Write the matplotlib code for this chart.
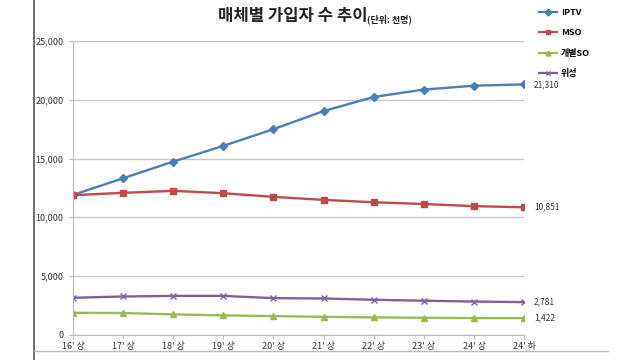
import matplotlib.pyplot as plt
from matplotlib.lines import Line2D

plt.rcParams['font.family'] = ['Noto Sans CJK KR', 'DejaVu Sans']

# 데이터 (단위: 천명)
periods = ["16' 상", "17' 상", "18' 상", "19' 상", "20' 상", "21' 상", "22' 상", "23' 상", "24' 상", "24' 하"]
iptv = [11900, 13320, 14740, 16080, 17500, 19040, 20240, 20870, 21200, 21310]
mso = [11880, 12080, 12250, 12050, 11740, 11480, 11280, 11130, 10950, 10851]
gaebyeol_so = [1870, 1850, 1740, 1650, 1590, 1530, 1480, 1450, 1420, 1422]
wiseong = [3150, 3260, 3310, 3310, 3120, 3090, 2980, 2900, 2830, 2781]

series = [
    ("IPTV", iptv, "#4A7EBB", "D", 4),
    ("MSO", mso, "#BE4B48", "s", 5),
    ("개별SO", gaebyeol_so, "#98B954", "^", 5),
    ("위성", wiseong, "#7D60A0", "x", 5),
]

fig = plt.figure(figsize=(6.4, 3.6), dpi=100)
ax = fig.add_axes([0.114, 0.070, 0.705, 0.816])

x = range(len(periods))
for name, vals, color, marker, ms in series:
    ax.plot(x, vals, color=color, lw=1.7, marker=marker, markersize=ms,
            markeredgecolor=color, markerfacecolor=color, label=name)
    ax.text(len(periods) - 1 + 0.2, vals[-1], f"{vals[-1]:,}", fontsize=6,
            va="center", ha="left", color="#333333")

ax.set_xlim(0, len(periods) - 1)
ax.set_ylim(0, 25000)
ax.set_yticks(range(0, 25001, 5000))
ax.set_yticklabels([f"{v:,}" for v in range(0, 25001, 5000)], fontsize=6.5)
ax.set_xticks(list(x))
ax.set_xticklabels(periods, fontsize=6.5)
ax.yaxis.grid(True, color="#C8C8C8", lw=1)
ax.set_axisbelow(True)
for s in ["top", "right"]:
    ax.spines[s].set_visible(False)
for s in ["left", "bottom"]:
    ax.spines[s].set_color("#BBBBBB")
ax.tick_params(axis="both", colors="#BBBBBB", labelcolor="#333333", length=3, pad=4)
ax.tick_params(axis="x", pad=2)

# 제목
fig.text(0.34, 0.956, "매체별 가입자 수 추이", fontsize=12, fontweight="bold",
         ha="left", va="center", color="#222222")
fig.text(0.573, 0.946, "(단위: 천명)", fontsize=6.5, fontweight="bold",
         ha="left", va="center", color="#222222")

# 범례
handles = [Line2D([0], [0], color=c, lw=1.6, marker=m, markersize=3.5,
                  markerfacecolor=c, markeredgecolor=c) for _, _, c, m, _ in series]
fig.legend(handles, [s[0] for s in series], loc="upper left",
           bbox_to_anchor=(0.83, 1.0), frameon=False,
           handlelength=2.0, labelspacing=1.25, handletextpad=0.4,
           prop={"family": ["Noto Sans CJK KR", "DejaVu Sans"],
                 "weight": "bold", "size": 6.5})

# 외곽선
fig.add_artist(Line2D([0.053, 0.053], [0, 1], color="#555555", lw=1.2))
fig.add_artist(Line2D([0.053, 0.95], [0.024, 0.024], color="#BBBBBB", lw=1))

fig.savefig("out.png", dpi=100)
